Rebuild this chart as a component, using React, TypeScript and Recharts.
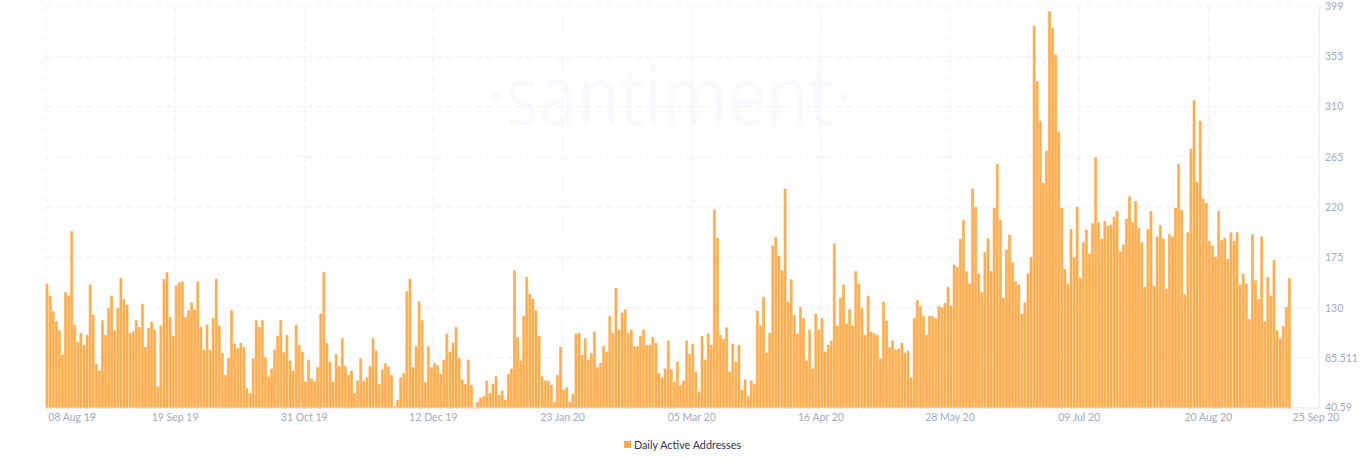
import React from "react";
import { BarChart, Bar, XAxis, YAxis, CartesianGrid, Legend } from "recharts";

// one value per day, starting on 08 Aug 19
const dailyActiveAddresses = [
  151.2, 140.5, 126.5, 117.6, 109.5, 87.9, 143.4, 140.5, 197.8, 114.3,
  99.4, 107.2, 96.5, 105.4, 150.3, 123.5, 79.8, 73.6, 118.5, 105.4,
  129.5, 140.5, 109.5, 129.5, 156.2, 137.5, 132.4, 107.2, 108.4, 118.5,
  112.5, 133.3, 94.7, 111.6, 117.3, 110.1, 59.6, 113.7, 155.3, 161.3,
  121.4, 104.8, 149.4, 152.3, 153.2, 121.4, 127.4, 134.5, 128, 153.2,
  112.5, 92.3, 114.6, 92.3, 120.5, 155.3, 113.7, 89.3, 69.7, 84.6,
  127.4, 97.7, 93.5, 98.3, 94.7, 57.8, 53.7, 84.6, 118.5, 112.5,
  118.5, 85.5, 68.5, 75.4, 92.3, 104.8, 118.5, 89.9, 105.4, 82.5,
  73.6, 114.3, 96.5, 90.5, 63.8, 83.4, 66.5, 63.8, 76.6, 124.4,
  161.3, 98.3, 81.6, 63.8, 88.4, 77.5, 102.4, 77.5, 69.7, 73.6,
  53.7, 64.7, 84.6, 64.7, 67.6, 77.5, 102.4, 91.4, 61.7, 74.5,
  80.4, 77.5, 69.7, 41.8, 47.7, 67.6, 71.5, 144.3, 155.3, 76.6,
  95.3, 135.4, 118.5, 63.5, 95.3, 76.6, 80.4, 78.6, 70.6, 83.4,
  106.6, 90.5, 98.3, 112.5, 84.6, 65.6, 61.7, 83.4, 60.8, 40.6,
  45.6, 49.5, 50.7, 64.7, 53.7, 61.7, 68.5, 51.6, 55.8, 47.7,
  70.6, 75.4, 163, 103.6, 82.5, 122.3, 157.1, 142.2, 137.5, 127.4,
  104.8, 68.5, 64.7, 64.7, 60.8, 45.6, 69.7, 94.7, 56.6, 58.7,
  45.6, 52.8, 106.6, 107.2, 87.6, 102.4, 83.4, 89.3, 108.4, 76.6,
  80.4, 95.3, 90.5, 122.3, 107.2, 147.3, 110.1, 125.3, 128.3, 107.2,
  110.1, 95.3, 95.3, 104.8, 110.1, 96.5, 96.5, 103.6, 98.3, 71.5,
  67.6, 75.4, 100.3, 74.5, 63.5, 81.6, 60.5, 64.7, 100.3, 88.4,
  97.7, 72.7, 54.9, 104.5, 83.4, 106.6, 96.5, 217.1, 191.9, 105.4,
  102.1, 112.2, 72.7, 97.7, 81.6, 96.5, 56.6, 65.6, 50.7, 64.7,
  61.7, 127.1, 113.7, 139.3, 89.6, 107.2, 185, 192.8, 176.1, 163,
  235.9, 135.1, 155, 123.2, 106.6, 130.4, 120.2, 82.5, 110.1, 75.4,
  124.4, 110.1, 120.2, 90.5, 96.5, 100.3, 187.1, 113.7, 138.4, 150.3,
  115.5, 128.3, 113.7, 162.2, 151.2, 129.2, 105.4, 140.2, 108.4, 106.6,
  105.4, 84.3, 135.1, 118.2, 94.4, 100.3, 92.3, 93.2, 98.3, 89.3,
  91.4, 67.3, 120.2, 136.3, 131.2, 122.3, 105.4, 122.3, 122.3, 120.2,
  131.2, 130.1, 133.9, 148.2, 131.2, 168.1, 166, 191, 207.9, 162.2,
  151.2, 235.9, 219.5, 160.1, 143.4, 179.1, 191.9, 162.2, 218.9, 257.9,
  208.2, 138.4, 181.5, 194.8, 170.2, 153.2, 150.3, 124.4, 134.5, 160.1,
  174.9, 381.2, 331.6, 296.5, 240.9, 269.7, 394, 379.1, 355.3, 286.7,
  218.9, 164.2, 151.2, 199.9, 174.9, 219.8, 156.2, 188, 199.3, 177.9,
  205, 263.8, 206.1, 191, 207, 202.9, 203.8, 210.9, 215.9, 180,
  185.9, 209.1, 229, 206.1, 224.9, 200.8, 188, 148.2, 199.9, 215.9,
  149.4, 193.1, 203.2, 191.3, 146.4, 195.1, 193.1, 218.9, 257.9, 216.8,
  141.4, 196.9, 271.5, 314.6, 241.8, 296.5, 226.9, 223.1, 189.2, 185,
  175.2, 215.9, 189.8, 191.9, 173.2, 196.9, 189.2, 196.9, 150.3, 160.1,
  151.2, 119.4, 195.1, 154.1, 137.2, 193.1, 117.3, 157.1, 140.5, 172.3,
  109.6, 102.4, 113.4, 130.4, 156.2,
];

const xTickDays = [0, 42, 84, 126, 168, 210, 252, 294, 336, 378, 414];
const xTickLabels = [
  "08 Aug 19", "19 Sep 19", "31 Oct 19", "12 Dec 19", "23 Jan 20", "05 Mar 20",
  "16 Apr 20", "28 May 20", "09 Jul 20", "20 Aug 20", "25 Sep 20",
];
// ticks are evenly spaced, the labels are rounded
const yTicks = [40.59, 85.39, 130.19, 174.99, 219.8, 264.6, 309.4, 354.2, 399];
const yTickLabels = ["40.59", "85.511", "130", "175", "220", "265", "310", "355", "399"];

const chartData = dailyActiveAddresses.map((value, i) => ({
  day: i + 0.2, // bars sit just right of their gridline
  value,
}));

const FONT = "Lato, 'Open Sans', sans-serif";
const SERIES_NAME = "Daily Active Addresses";
const BAR_COLOR = "#ffae52";

// first and last date labels get pushed inside the chart
function DateTick({ x, y, payload }: any) {
  let dx = 0;
  if (payload.value === 0) dx = 26;
  if (payload.value === 414) dx = -3;
  return (
    <text x={x + dx} y={y + 5} textAnchor="middle" fontSize={10.5} fontFamily={FONT} fill="#9faac4">
      {xTickLabels[xTickDays.indexOf(payload.value)]}
    </text>
  );
}

function ValueTick({ x, y, payload }: any) {
  const index = yTicks.indexOf(payload.value);
  // bottom label stays clear of the last date
  const baseline = index === 0 ? y + 3 : y + 4;
  return (
    <text x={x} y={baseline} textAnchor="start" fontSize={10.5} fontFamily={FONT} fill="#9faac4">
      {yTickLabels[index]}
    </text>
  );
}

function LegendRow() {
  return (
    <div
      style={{
        display: "flex",
        justifyContent: "center",
        alignItems: "center",
        height: 12,
        fontFamily: FONT,
        fontSize: 10.8,
        color: "#2f354d",
      }}
    >
      <span style={{ width: 7, height: 7, background: "#ffab47", marginRight: 3 }} />
      {SERIES_NAME}
    </div>
  );
}

export default function App() {
  return (
    <div style={{ position: "fixed", left: 0, top: 0, width: 1366, height: 462, background: "#fff" }}>
      <div
        style={{
          position: "absolute",
          left: 487,
          top: 37,
          fontFamily: "'Open Sans', sans-serif",
          fontSize: 82,
          color: "#f9fafd",
          transform: "scaleX(0.85)",
          transformOrigin: "left top",
          whiteSpace: "nowrap",
        }}
      >
        ·santiment·
      </div>
      <div style={{ position: "absolute", left: 0, top: 0 }}>
        <BarChart
          width={1366}
          height={462}
          data={chartData}
          margin={{ top: 6, right: 0, bottom: 0, left: 46 }}
        >
          <CartesianGrid stroke="#eff1f8" strokeDasharray="6 4" />
          <XAxis
            dataKey="day"
            type="number"
            domain={[0, 414]}
            ticks={xTickDays}
            interval={0}
            height={30}
            axisLine={{ stroke: "#e7eaf4" }}
            tickLine={false}
            tick={<DateTick />}
          />
          <YAxis
            orientation="right"
            domain={[40.59, 399]}
            ticks={yTicks}
            interval={0}
            width={47}
            axisLine={{ stroke: "#e7eaf4" }}
            tickLine={false}
            tickMargin={0}
            tick={<ValueTick />}
          />
          <Legend
            verticalAlign="bottom"
            height={24}
            content={<LegendRow />}
            wrapperStyle={{ left: 0, width: 1365, top: 438 }}
          />
          <Bar
            dataKey="value"
            name={SERIES_NAME}
            fill={BAR_COLOR}
            stroke="#ffa436"
            strokeWidth={0.6}
            barSize={2}
            isAnimationActive={false}
          />
        </BarChart>
      </div>
    </div>
  );
}
